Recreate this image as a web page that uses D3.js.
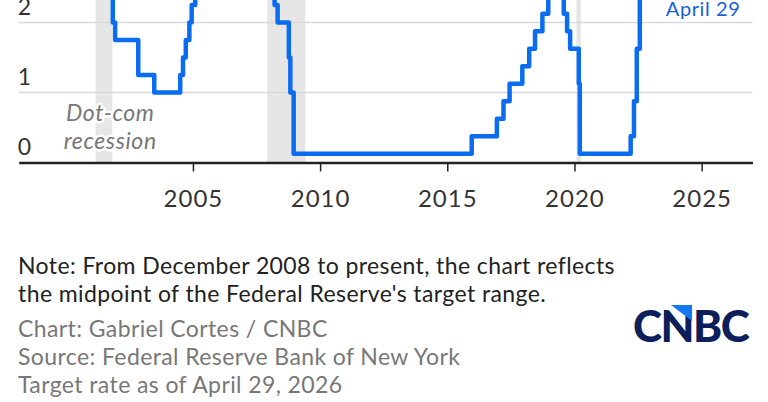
<!DOCTYPE html>
<html>
<head>
<meta charset="utf-8">
<script src="https://cdn.jsdelivr.net/npm/d3@7"></script>
<style>
  html, body { margin: 0; padding: 0; background: #fff; }
  svg { display: block; }
  text { font-family: Lato, "Open Sans", sans-serif; }
</style>
</head>
<body>
<svg id="chart" width="768" height="402"></svg>
<script>
// ---- Data (decimal years, target rate %; midpoint of range from Dec 2008) ----
const rateDates = [
  1998.00, 1998.74, 1998.79, 1998.88,
  1999.50, 1999.65, 1999.88,
  2000.09, 2000.22, 2000.37,
  2001.01, 2001.08, 2001.21, 2001.30, 2001.37, 2001.49, 2001.64, 2001.71, 2001.75, 2001.85, 2001.94,
  2002.85, 2003.48,
  2004.50, 2004.61, 2004.72, 2004.86, 2004.95,
  2005.09, 2005.22, 2005.34, 2005.50, 2005.61, 2005.72, 2005.84, 2005.95,
  2006.08, 2006.24, 2006.36, 2006.49,
  2007.71, 2007.83, 2007.94,
  2008.06, 2008.08, 2008.21, 2008.33, 2008.77, 2008.83, 2008.96,
  2015.96, 2016.95,
  2017.21, 2017.45, 2017.95,
  2018.22, 2018.45, 2018.74, 2018.97,
  2019.58, 2019.71, 2019.83,
  2020.17, 2020.21,
  2022.21, 2022.34, 2022.45, 2022.57, 2022.72, 2022.84, 2022.95,
  2023.09, 2023.22, 2023.34, 2023.57,
  2024.71, 2024.85, 2024.96,
  2025.71, 2025.83, 2025.94,
  2026.33
];
const rateValues = [
  5.5, 5.25, 5.0, 4.75,
  5.0, 5.25, 5.5,
  5.75, 6.0, 6.5,
  6.0, 5.5, 5.0, 4.5, 4.0, 3.75, 3.5, 3.0, 2.5, 2.0, 1.75,
  1.25, 1.0,
  1.25, 1.5, 1.75, 2.0, 2.25,
  2.5, 2.75, 3.0, 3.25, 3.5, 3.75, 4.0, 4.25,
  4.5, 4.75, 5.0, 5.25,
  4.75, 4.5, 4.25,
  3.5, 3.0, 2.25, 2.0, 1.5, 1.0, 0.125,
  0.375, 0.625,
  0.875, 1.125, 1.375,
  1.625, 1.875, 2.125, 2.375,
  2.125, 1.875, 1.625,
  1.125, 0.125,
  0.375, 0.875, 1.625, 2.375, 3.125, 3.875, 4.375,
  4.625, 4.875, 5.125, 5.375,
  4.875, 4.625, 4.375,
  4.125, 3.875, 3.625,
  3.625
];
const recessionNames = ["Dot-com recession", "Great Recession", "COVID-19 recession"];
const recessionStarts = [2001.17, 2007.92, 2020.08];
const recessionEnds   = [2001.83, 2009.42, 2020.25];
const yTicks = [0, 1, 2];
const xTicks = [2005, 2010, 2015, 2020, 2025];
const endLabel = "April 29";
const noteLines = [
  "Note: From December 2008 to present, the chart reflects",
  "the midpoint of the Federal Reserve's target range."
];
const sourceLines = [
  "Chart: Gabriel Cortes / CNBC",
  "Source: Federal Reserve Bank of New York",
  "Target rate as of April 29, 2026"
];

// ---- Layout ----
const svg = d3.select("#chart");
const left = 18.7, right = 752.5, baseY = 162.5;
const x = d3.scaleLinear().domain([1998.15, 2027]).range([left, right]);
const y = d3.scaleLinear().domain([0, 7]).range([baseY, baseY - 7 * 70]);

const data = rateDates.map((d, i) => ({ t: d, v: rateValues[i] }));

// recession shading
svg.append("g").selectAll("rect")
  .data(recessionStarts.map((s, i) => ({ s, e: recessionEnds[i], name: recessionNames[i] })))
  .join("rect")
  .attr("x", d => x(d.s))
  .attr("width", d => Math.max(x(d.e) - x(d.s), 3))
  .attr("y", y(7))
  .attr("height", y(0) - y(7))
  .attr("fill", "#e6e6e6");

// gridlines
svg.append("g").selectAll("line")
  .data(yTicks.filter(d => d > 0))
  .join("line")
  .attr("x1", left).attr("x2", right)
  .attr("y1", d => y(d)).attr("y2", d => y(d))
  .attr("stroke", "#d9d9d9").attr("stroke-width", 1.5);

// y labels
svg.append("g").selectAll("text")
  .data(yTicks)
  .join("text")
  .attr("x", left - 1)
  .attr("y", d => y(d) - 8)
  .attr("font-size", 23)
  .attr("letter-spacing", 0.5)
  .attr("fill", "#333")
  .text(d => d);

// Dot-com label
const dc = svg.append("text")
  .attr("text-anchor", "middle")
  .attr("font-size", 23)
  .attr("letter-spacing", 0.6)
  .attr("font-style", "italic")
  .attr("fill", "#777")
  .attr("stroke", "#fff").attr("stroke-width", 5)
  .attr("paint-order", "stroke")
  .attr("stroke-linejoin", "round");
dc.append("tspan").attr("x", x(2001.75)).attr("y", 121).text("Dot-com");
dc.append("tspan").attr("x", x(2001.75)).attr("y", 149).text("recession");

// line
const line = d3.line()
  .x(d => x(d.t))
  .y(d => y(d.v))
  .curve(d3.curveStepAfter);
svg.append("path")
  .datum(data)
  .attr("d", line)
  .attr("fill", "none")
  .attr("stroke", "#0b6cf0")
  .attr("stroke-width", 4.5)
  .attr("stroke-linejoin", "round")
  .attr("stroke-linecap", "round");

// end label
const last = data[data.length - 1];
svg.append("text")
  .attr("x", x(last.t) + 5)
  .attr("y", 15.5)
  .attr("text-anchor", "end")
  .attr("font-size", 20)
  .attr("letter-spacing", 0.6)
  .attr("fill", "#1a5fd8")
  .attr("stroke", "#fff").attr("stroke-width", 2)
  .attr("paint-order", "stroke")
  .text(endLabel);

// x axis
const xAxis = d3.axisBottom(x)
  .tickValues(xTicks)
  .tickFormat(d3.format("d"))
  .tickSize(9)
  .tickSizeOuter(0)
  .tickPadding(18.5);
const gx = svg.append("g")
  .attr("transform", `translate(0,${baseY})`)
  .call(xAxis);
gx.select(".domain").attr("stroke", "#222").attr("stroke-width", 2.5);
gx.selectAll(".tick line").attr("stroke", "#222").attr("stroke-width", 1.5);
gx.selectAll(".tick text")
  .attr("font-family", "Lato, sans-serif")
  .attr("font-size", 24)
  .attr("letter-spacing", 1)
  .attr("fill", "#333");

// footer
svg.append("g").selectAll("text")
  .data(noteLines)
  .join("text")
  .attr("x", 18)
  .attr("y", (d, i) => 274 + i * 28)
  .attr("font-size", 23)
  .attr("letter-spacing", 0.4)
  .attr("fill", "#222")
  .text(d => d);
svg.append("g").selectAll("text")
  .data(sourceLines)
  .join("text")
  .attr("x", 18)
  .attr("y", (d, i) => 337 + i * 28)
  .attr("font-size", 23)
  .attr("letter-spacing", 0.4)
  .attr("fill", "#777")
  .text(d => d);

// CNBC logo
const logo = svg.append("g");
logo.append("text")
  .attr("x", 633)
  .attr("y", 342)
  .attr("font-size", 44)
  .attr("font-weight", 900)
  .attr("letter-spacing", -1.5)
  .attr("fill", "#0c1f5a")
  .text("CNBC");
logo.append("path")
  .attr("d", "M671,305 L692,305 L692,321 Z")
  .attr("fill", "#1479f0");
</script>
</body>
</html>
